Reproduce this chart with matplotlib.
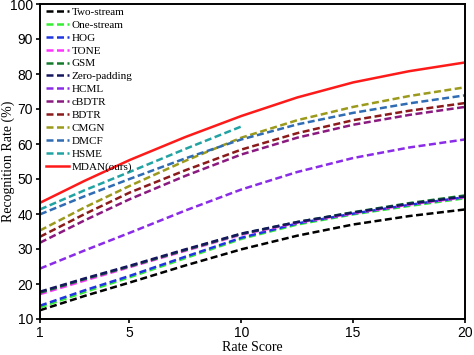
import numpy as np
import matplotlib
matplotlib.use("Agg")
import matplotlib.pyplot as plt

plt.rcParams['font.family'] = ['Liberation Sans', 'DejaVu Sans']

scores = [1, 3, 5, 7.5, 10, 12.5, 15, 17.5, 20]
hsme_scores = [1, 3, 5, 7.5, 10]

two_stream = [12.5, 16.6, 20.4, 25.3, 29.9, 33.8, 37.0, 39.4, 41.3]
one_stream = [13.3, 17.7, 21.9, 27.4, 32.9, 37.0, 39.9, 42.3, 44.5]
hog = [13.8, 18.2, 22.3, 27.8, 33.2, 37.3, 40.1, 42.6, 44.8]
tone = [17.1, 21.0, 24.8, 29.5, 34.1, 37.5, 40.2, 42.7, 44.8]
gsm = [17.5, 21.4, 25.0, 29.7, 34.3, 37.7, 40.5, 43.1, 45.3]
zero_padding = [17.8, 21.6, 25.2, 29.9, 34.4, 37.7, 40.4, 42.9, 45.0]
hcml = [24.4, 29.6, 34.6, 41.0, 47.0, 52.0, 56.0, 59.0, 61.3]
cbdtr = [31.8, 38.2, 44.2, 50.9, 57.0, 61.8, 65.5, 68.3, 70.6]
bdtr = [33.5, 40.0, 46.1, 52.5, 58.4, 63.1, 66.8, 69.5, 71.7]
cmgn = [35.3, 41.9, 48.0, 55.2, 61.8, 66.8, 70.6, 73.7, 76.2]
dmcf = [39.9, 45.1, 50.0, 55.9, 61.3, 65.6, 68.9, 71.6, 73.9]
hsme = [41.3, 46.8, 52.0, 58.6, 65.0]
mdan = [43.2, 49.5, 55.4, 62.0, 68.0, 73.3, 77.6, 80.8, 83.3]

series = [
    ("Two-stream", scores, two_stream, "#000000"),
    ("One-stream", scores, one_stream, "#33ee33"),
    ("HOG", scores, hog, "#1f35e0"),
    ("TONE", scores, tone, "#ff33ff"),
    ("GSM", scores, gsm, "#137a2c"),
    ("Zero-padding", scores, zero_padding, "#15175e"),
    ("HCML", scores, hcml, "#8a2be8"),
    ("cBDTR", scores, cbdtr, "#8a1a80"),
    ("BDTR", scores, bdtr, "#8b1a1a"),
    ("CMGN", scores, cmgn, "#9c9a1c"),
    ("DMCF", scores, dmcf, "#2f6cb3"),
    ("HSME", hsme_scores, hsme, "#22a3a3"),
]

fig = plt.figure(figsize=(4.74, 3.55), dpi=100)
ax = fig.add_axes([40 / 474, 36 / 355, 425 / 474, 315 / 355])

for name, xs, ys, c in series:
    ax.plot(xs, ys, color=c, lw=1.8, linestyle=(0, (2.8, 1.4)), label=name)
ax.plot(scores, mdan, color="#ff1a1a", lw=1.8, label="MDAN(ours)")

ax.set_xlim(1, 20)
ax.set_ylim(10, 100)
ax.set_xticks([1, 5, 10, 15, 20])
ax.set_yticks(np.arange(10, 101, 10))
ax.tick_params(direction='out', length=3, width=1.2, labelsize=10, pad=2)
for s in ax.spines.values():
    s.set_linewidth(1.4)

ax.set_xlabel("Rate Score", family="Liberation Serif", fontsize=10, labelpad=1)
ax.set_ylabel("Recognition Rate (%)", family="Liberation Serif", fontsize=10)
ax.yaxis.set_label_coords(-0.058, 0.5)

ax.legend(loc="upper left", bbox_to_anchor=(0.014, 0.99), frameon=False,
          prop={"family": "Liberation Serif", "size": 8},
          borderpad=0, borderaxespad=0, labelspacing=0.28,
          handlelength=2.1, handletextpad=0.2)

fig.savefig("out.png", dpi=100)
